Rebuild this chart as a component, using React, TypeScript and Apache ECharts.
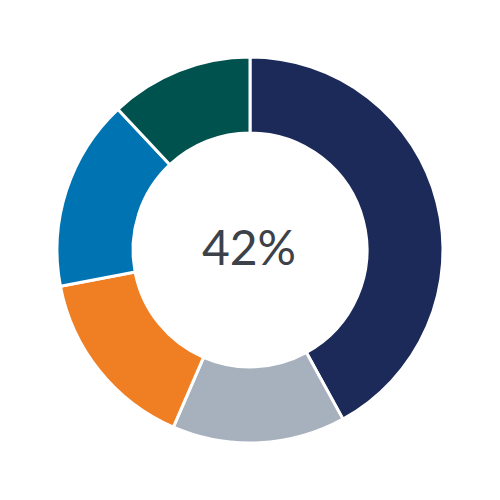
import React, { useEffect, useRef } from "react";
import * as echarts from "echarts";

const categories = ["A", "B", "C", "D", "E"];
const values = [42, 14.5, 15.5, 16, 12];
const colors = ["#1c2a59", "#a7b1be", "#f07e22", "#0074b3", "#00524f"];
const centerLabel = "42%";

export default function App() {
  const ref = useRef<HTMLDivElement>(null);
  useEffect(() => {
    if (!ref.current) return;
    const chart = echarts.init(ref.current, undefined, { renderer: "svg" });
    chart.setOption({
      animation: false,
      backgroundColor: "#ffffff",
      graphic: [
        {
          type: "text",
          x: 249,
          y: 246,
          style: {
            text: centerLabel,
            fontFamily: "Lato, 'Open Sans', sans-serif",
            fontWeight: "normal",
            fontSize: 48,
            fill: "#3d4148",
            textAlign: "center",
            textVerticalAlign: "middle",
          },
        },
      ],
      series: [
        {
          type: "pie",
          center: [250, 250],
          radius: [117, 193],
          startAngle: 90,
          clockwise: true,
          label: { show: false },
          labelLine: { show: false },
          itemStyle: { borderColor: "#ffffff", borderWidth: 3 },
          emphasis: { disabled: true },
          data: categories.map((c, i) => ({
            name: c,
            value: values[i],
            itemStyle: { color: colors[i] },
          })),
        },
      ],
    });
    return () => chart.dispose();
  }, []);
  return (
    <div
      ref={ref}
      style={{ position: "fixed", left: 0, top: 0, width: 500, height: 500 }}
    />
  );
}
